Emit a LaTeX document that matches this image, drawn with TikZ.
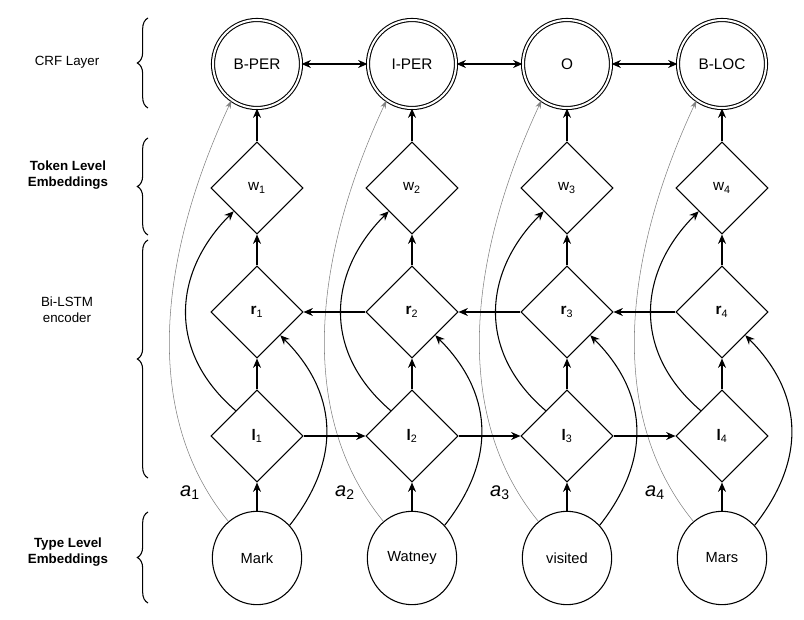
\documentclass[tikz,border=0pt]{standalone}
\usepackage{fontspec}
\setmainfont{Liberation Sans}
\usetikzlibrary{shapes.geometric,arrows.meta,decorations.pathreplacing}
\begin{document}
\begin{tikzpicture}[x=0.75pt,y=-0.75pt,
  crf/.style={circle,draw,double,double distance=1.5pt,thick,minimum size=66pt,inner sep=0,font=\fontsize{11.5}{12}\selectfont},
  dia/.style={diamond,draw,thick,minimum width=69pt,minimum height=69pt,inner sep=0,font=\fontsize{11.5}{12}\selectfont},
  word/.style={ellipse,draw,thick,minimum width=67pt,minimum height=70pt,inner sep=0,font=\fontsize{11}{12}\selectfont},
  arr/.style={thick,-{Stealth[length=7pt,width=6pt]}},
  att/.style={gray,thin,-{Stealth[length=6pt,width=4pt]}},
  lab/.style={font=\fontsize{10}{12}\selectfont,align=center},
  brace/.style={draw,thick,decorate,decoration={brace,amplitude=8pt}}]
\useasboundingbox (0,0) rectangle (804,620);
\foreach \i/\x/\c/\w in {1/257/B-PER/Mark,2/412/I-PER/Watney,3/567/O/visited,4/722/B-LOC/Mars}{
  \node[crf] (c\i) at (\x,64) {\c};
  \node[dia] (w\i) at (\x,188) {w\textsubscript{\i}};
  \node[dia] (r\i) at (\x,312) {\textbf{r}\textsubscript{\i}};
  \node[dia] (l\i) at (\x,436) {\textbf{l}\textsubscript{\i}};
  \node[word] (t\i) at (\x,558) {\w};
  \node[font=\fontsize{15}{16}\selectfont] (a\i) at (\x-67,493) {\textit{a}\textsubscript{\i}};
  \draw[arr] (t\i) -- (l\i);
  \draw[arr] (l\i) -- (r\i);
  \draw[arr] (r\i) -- (w\i);
  \draw[arr] (w\i) -- (c\i);
  \draw[arr] (l\i.130) .. controls +(-70,-60) and +(-60,60) .. (w\i.225);
  \draw[arr] (t\i.45) .. controls +(55,-70) and +(55,55) .. (r\i.-45);
  \draw[att] (t\i.128) .. controls +(-90,-110) and +(-70,150) .. (c\i.235);
}
\foreach \i/\j in {1/2,2/3,3/4}{
  \draw[thick,{Stealth[length=7pt,width=6pt]}-{Stealth[length=7pt,width=6pt]}] (c\i) -- (c\j);
  \draw[arr] (l\i) -- (l\j);
  \draw[arr] (r\j) -- (r\i);
}
\node[lab] (L1) at (67,62) {CRF Layer};
\node[lab,font=\fontsize{10}{12}\selectfont\bfseries] (L2) at (68,175) {Token Level\\Embeddings};
\node[lab] (L3) at (67,310) {Bi-LSTM\\encoder};
\node[lab,font=\fontsize{10}{12}\selectfont\bfseries] (L4) at (68,552) {Type Level\\Embeddings};
\draw[brace] (148,108) -- (148,18);
\draw[brace] (148,235) -- (148,138);
\draw[brace] (148,478) -- (148,240);
\draw[brace] (148,603) -- (148,512);
\end{tikzpicture}
\end{document}
